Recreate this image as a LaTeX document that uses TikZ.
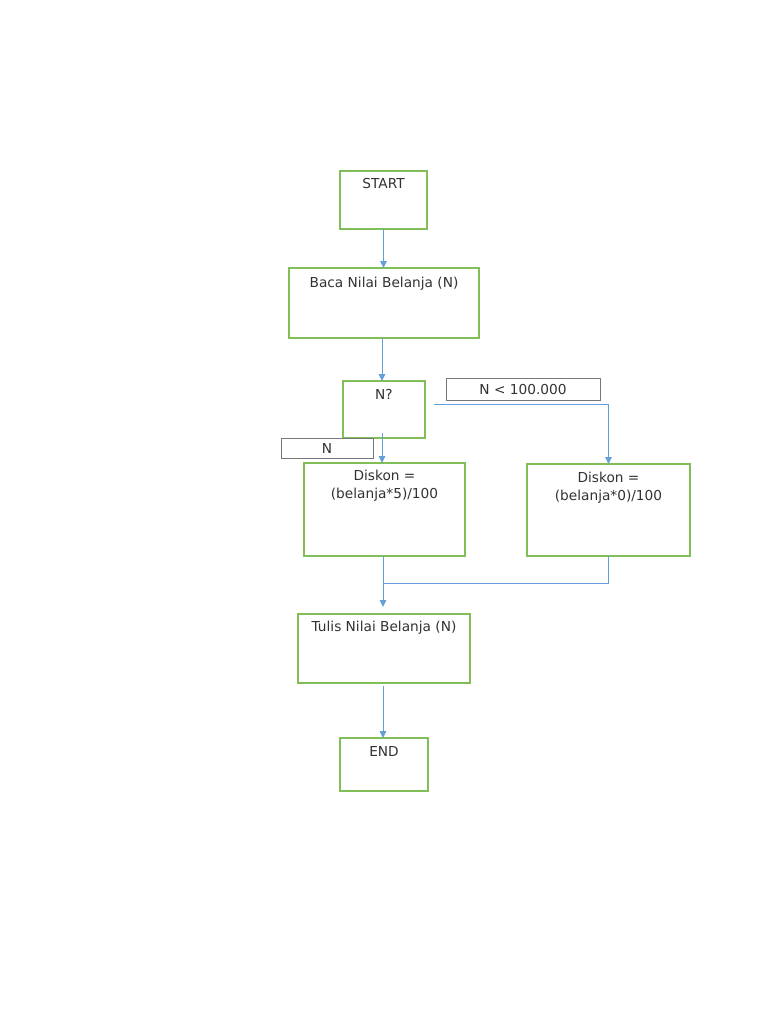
\documentclass[tikz,border=0pt]{standalone}
\usepackage{fontspec}
\setmainfont{DejaVu Sans}
\usetikzlibrary{arrows.meta,calc}
\definecolor{boxgreen}{RGB}{130,190,88}
\definecolor{lineblue}{RGB}{100,160,215}
\definecolor{labgray}{RGB}{120,120,120}
\definecolor{txt}{RGB}{50,50,50}
\begin{document}
\begin{tikzpicture}[x=1pt,y=-1pt,
  every node/.style={font=\fontsize{13.7}{18}\selectfont, text=txt, inner sep=0pt, outer sep=0pt},
  pbox/.style={draw=boxgreen, line width=1.4pt, anchor=north, align=center},
  lab/.style={draw=labgray, line width=0.9pt},
  conn/.style={draw=lineblue, line width=1pt},
  arr/.style={conn, -{Triangle[width=6.5pt,length=7pt]}}]
\useasboundingbox (0,0) rectangle (768,1024);
\node[pbox, minimum width=87pt, text height=18pt, text depth=40pt] (start) at (383.5,171) {START};
\node[pbox, minimum width=190pt, text height=19pt, text depth=51pt] (baca) at (384,268) {Baca Nilai Belanja (N)};
\node[pbox, minimum width=82pt, text height=18pt, text depth=39pt] (nq) at (384,381) {N?};
\node[lab, minimum width=154pt, minimum height=22pt] (lt) at (523,389.5) {N < 100.000};
\node[lab, minimum width=92pt, minimum height=20pt] (ln) at (327,448.5) {N};
\node[pbox, minimum width=161pt, text height=35pt, text depth=58pt] (dl) at (384.5,463) {Diskon =\\(belanja*5)/100};
\node[pbox, minimum width=163pt, text height=36pt, text depth=56pt] (dr) at (608.5,464) {Diskon =\\(belanja*0)/100};
\node[pbox, minimum width=172pt, text height=17pt, text depth=52pt] (tulis) at (384,614) {Tulis Nilai Belanja (N)};
\node[pbox, minimum width=88pt, text height=18pt, text depth=35pt] (end) at (384,738) {END};
\coordinate (join) at (383,583);
\draw[arr] (start.south) -- (start.south |- baca.north);
\draw[arr] ([xshift=-2pt]baca.south) -- ([xshift=-2pt]nq.north);
\draw[arr] ($(nq.south)+(-2,-5)$) -- ($(dl.north)+(-2.5,0)$);
\draw[arr] ($(nq.east)+(9,-5)$) -| (dr.north);
\draw[arr, shorten >=7pt] ($(dl.south)+(-1.5,0)$) -- ($(tulis.north)+(-1,0)$);
\draw[conn] (dr.south) |- (join);
\draw[arr, shorten <=3pt] ($(tulis.south)+(-1,0)$) -- ($(end.north)+(-1,0)$);
\end{tikzpicture}
\end{document}
